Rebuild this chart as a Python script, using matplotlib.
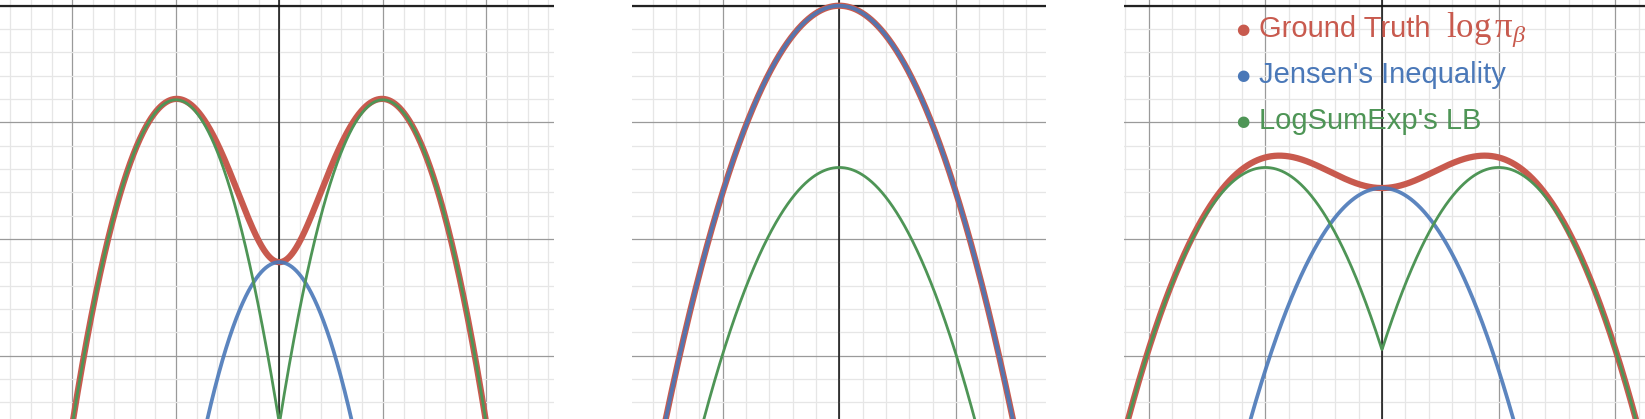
import numpy as np
import matplotlib.pyplot as plt

# mixture of two gaussians, tempered by beta (log pi_beta = beta * log p)
BETA = 2.0
weights = [0.5, 0.5]

# one entry per panel
panel_means = [[-1.0, 1.0], [0.0, 0.0], [-1.0, 1.0]]
panel_sigmas = [0.6, 0.79, 0.8]
panel_offsets = [0.29, 0.0, 0.0]
panel_xlims = [(-2.70, 2.654), (-1.776, 1.771), (-2.211, 2.254)]
ylim = (-3.542, 0.049)

legend_labels = ["Ground Truth", "Jensen's Inequality", "LogSumExp's LB"]

RED = '#c85a4e'
BLUE = '#4a78b8'
GREEN = '#4e9556'

W, H = 1645, 419
# axes boxes in pixels: left, width
boxes = [(0, 554), (632, 414), (1124, 521)]

fig = plt.figure(figsize=(W / 100, H / 100), dpi=100)


def curves(x, mus, sigma, offset):
    terms = np.array([np.log(w) + offset - (x - m) ** 2 / (2 * sigma ** 2)
                      for w, m in zip(weights, mus)])
    top = terms.max(axis=0)
    truth = BETA * (top + np.log(np.exp(terms - top).sum(axis=0)))
    jensen = BETA * sum(w * (offset - (x - m) ** 2 / (2 * sigma ** 2))
                        for w, m in zip(weights, mus))
    lse = BETA * top
    return truth, jensen, lse


for i, (left, width) in enumerate(boxes):
    ax = fig.add_axes([left / W, 0, width / W, 1])
    x0, x1 = panel_xlims[i]
    ax.set_xlim(x0, x1)
    ax.set_ylim(*ylim)

    ax.set_xticks(np.arange(np.ceil(x0), x1, 1.0))
    ax.set_xticks(np.arange(np.ceil(x0 * 5) / 5, x1, 0.2), minor=True)
    ax.set_yticks(np.arange(-3, 0.5, 1.0))
    ax.set_yticks(np.arange(-3.4, 0.1, 0.2), minor=True)
    ax.grid(which='minor', color='#e6e6e6', lw=0.9)
    ax.grid(which='major', color='#9a9a9a', lw=0.9)
    ax.tick_params(which='both', length=0, labelbottom=False, labelleft=False)
    for s in ax.spines.values():
        s.set_visible(False)
    ax.axhline(0, color='#222222', lw=1.6, zorder=2)
    ax.axvline(0, color='#111111', lw=1.1, zorder=2)

    x = np.linspace(x0, x1, 2001)
    truth, jensen, lse = curves(x, panel_means[i], panel_sigmas[i], panel_offsets[i])
    ax.plot(x, truth, color=RED, lw=4.5, zorder=3, solid_capstyle='round')
    ax.plot(x, jensen, color=BLUE, lw=2.7, alpha=0.9, zorder=4)
    ax.plot(x, lse, color=GREEN, lw=2.0, zorder=5)

# legend written inside the third panel
plt.rcParams['mathtext.fontset'] = 'custom'
plt.rcParams['mathtext.rm'] = 'Liberation Serif'
plt.rcParams['mathtext.it'] = 'Liberation Serif:italic'

label_colors = [RED, BLUE, GREEN]
baselines = [37, 83, 129]
for label, col, yb in zip(legend_labels, label_colors, baselines):
    fig.text(1243 / W, 1 - (yb - 8) / H, u'\u25CF', color=col, fontsize=11,
             ha='center', va='center', family='DejaVu Sans')
    fig.text(1259 / W, 1 - yb / H, label, color=col, fontsize=21,
             family='Liberation Sans', va='baseline')

fig.text(1446 / W, 1 - 37 / H, r'$\mathrm{log}\,\mathrm{\pi}_{\beta}$', color=RED,
         fontsize=25, va='baseline')

fig.savefig('out.png', dpi=100)
